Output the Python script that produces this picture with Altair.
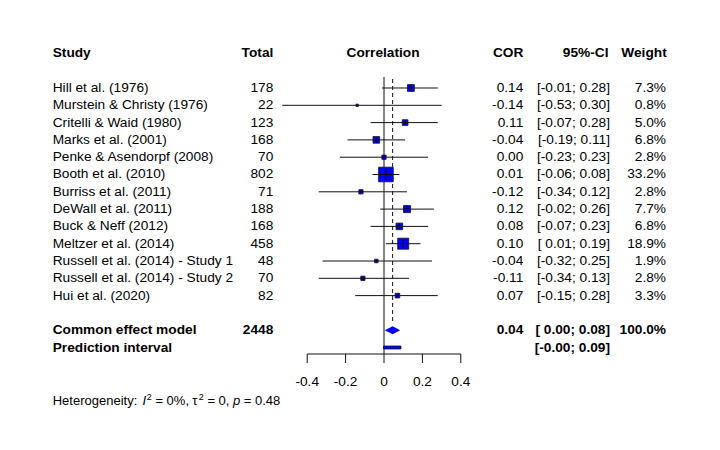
import altair as alt
import pandas as pd

# ---------------- data ----------------
studies = ["Hill et al. (1976)", "Murstein & Christy (1976)", "Critelli & Waid (1980)",
           "Marks et al. (2001)", "Penke & Asendorpf (2008)", "Booth et al. (2010)",
           "Burriss et al. (2011)", "DeWall et al. (2011)", "Buck & Neff (2012)",
           "Meltzer et al. (2014)", "Russell et al. (2014) - Study 1",
           "Russell et al. (2014) - Study 2", "Hui et al. (2020)"]
totals = [178, 22, 123, 168, 70, 802, 71, 188, 168, 458, 48, 70, 82]
cor = [0.14, -0.14, 0.11, -0.04, 0.00, 0.01, -0.12, 0.12, 0.08, 0.10, -0.04, -0.11, 0.07]
lower = [-0.01, -0.53, -0.07, -0.19, -0.23, -0.06, -0.34, -0.02, -0.07, 0.01, -0.32, -0.34, -0.15]
upper = [0.28, 0.30, 0.28, 0.11, 0.23, 0.08, 0.12, 0.26, 0.23, 0.19, 0.25, 0.13, 0.28]
weight = [7.3, 0.8, 5.0, 6.8, 2.8, 33.2, 2.8, 7.7, 6.8, 18.9, 1.9, 2.8, 3.3]

common_total = 2448
common_est, common_lo, common_hi = 0.045, 0.004, 0.084
common_labels = ["0.04", "[\u00a00.00; 0.08]", "100.0%"]
pred_lo, pred_hi = -0.002, 0.088
pred_label = "[-0.00; 0.09]"
tick_values = [-0.4, -0.2, 0, 0.2, 0.4]
tick_labels = ["-0.4", "-0.2", "0", "0.2", "0.4"]

def fmt(v):
    s = f"{v:.2f}"
    return s if v < 0 else "\u00a0" + s

rows = pd.DataFrame({
    "study": studies, "total": [str(t) for t in totals], "cor": cor, "lower": lower,
    "upper": upper, "weight": weight, "row": list(range(len(studies))),
})
rows["cor_lab"] = [f"{v:.2f}" for v in cor]
rows["ci_lab"] = ["[" + fmt(l) + "; " + f"{u:.2f}" + "]" for l, u in zip(lower, upper)]
rows["w_lab"] = [f"{w:.1f}%" for w in weight]

ROW_COMMON = len(studies) + 1
ROW_PRED = len(studies) + 2
FONT = "Liberation Sans"; FS = 13.7; ROW_PX = 17.3
SQ = 6.4  # square area (px^2) per weight percent

xs = alt.Scale(domain=[-376 / 192, 328 / 192], nice=False, zero=False)
ys = alt.Scale(domain=[-4.624, 20.462], reverse=True, nice=False, zero=False)
def X(f): return alt.X(f, scale=xs, axis=None)
def Y(f): return alt.Y(f, scale=ys, axis=None)

base = alt.Chart(rows)
squares = base.transform_calculate(sz=f"datum.weight * {SQ}").mark_point(
    shape="square", filled=True, fill="#0000ff", stroke="#1a1a40",
    strokeWidth=0.9, opacity=1, fillOpacity=1
).encode(x=X("cor:Q"), y=Y("row:Q"), size=alt.Size("sz:Q", scale=None, legend=None))
ci = base.mark_rule(color="#111111", strokeWidth=1).encode(x=X("lower:Q"), x2="upper:Q", y=Y("row:Q"))
ticks_in = base.transform_calculate(hl=f"sqrt(datum.weight * {SQ}) * 0.4 / {ROW_PX}").transform_calculate(
    t1="datum.row - datum.hl", t2="datum.row + datum.hl"
).mark_rule(color="#111111", strokeWidth=1).encode(x=X("cor:Q"), y=Y("t1:Q"), y2="t2:Q")
h = 0.23
diamond_df = pd.DataFrame({"x": [common_lo, common_est, common_hi],
                           "y": [ROW_COMMON, ROW_COMMON - h, ROW_COMMON],
                           "y2": [ROW_COMMON, ROW_COMMON + h, ROW_COMMON]})
diamond = alt.Chart(diamond_df).mark_area(color="#0000ff", opacity=1).encode(x=X("x:Q"), y=Y("y:Q"), y2="y2:Q")
pred_df = pd.DataFrame({"lo": [pred_lo], "hi": [pred_hi], "row": [ROW_PRED]})
pred = alt.Chart(pred_df).transform_calculate(r1="datum.row - 0.08", r2="datum.row + 0.08").mark_rect(
    fill="#0000ff", stroke="#00006b", strokeWidth=1).encode(x=X("lo:Q"), x2="hi:Q", y=Y("r1:Q"), y2="r2:Q")
zero_line = alt.Chart(pd.DataFrame({"x": [0]})).mark_rule(color="#111111", strokeWidth=1).encode(
    x=X("x:Q"), y=alt.value(69), y2=alt.value(346))
dash_line = alt.Chart(pd.DataFrame({"x": [common_est]})).mark_rule(
    color="#111111", strokeWidth=1, strokeDash=[4, 3]).encode(x=X("x:Q"), y=alt.value(71), y2=alt.value(314))
axis_line = alt.Chart(pd.DataFrame({"a": [tick_values[0]], "b": [tick_values[-1]]})).mark_rule(
    color="#111111", strokeWidth=1).encode(x=X("a:Q"), x2="b:Q", y=alt.value(346))
tick_df = pd.DataFrame({"v": tick_values, "lab": tick_labels})
axis_ticks = alt.Chart(tick_df).mark_rule(color="#111111", strokeWidth=1).encode(
    x=X("v:Q"), y=alt.value(346), y2=alt.value(355))
axis_labels = alt.Chart(tick_df).mark_text(font=FONT, fontSize=FS, baseline="middle", align="center", color="black").encode(
    x=X("v:Q"), y=alt.value(373.5), text="lab:N")

def col_text(field, xpx, align):
    return base.mark_text(font=FONT, fontSize=FS, baseline="middle", align=align, color="black").encode(
        x=alt.value(xpx), y=Y("row:Q"), text=f"{field}:N")
t_layers = [col_text("study", 44.7, "left"), col_text("total", 265.3, "right"),
            col_text("cor_lab", 515.3, "right"), col_text("ci_lab", 602, "right"),
            col_text("w_lab", 658, "right")]

summ = pd.DataFrame({"row": [ROW_COMMON, ROW_PRED],
                     "label": ["Common effect model", "Prediction interval"],
                     "total": [str(common_total), ""], "cor": [common_labels[0], ""],
                     "ci": [common_labels[1], pred_label], "w": [common_labels[2], ""]})
sbase = alt.Chart(summ)
def s_text(field, xpx, align):
    return sbase.mark_text(font=FONT, fontSize=FS, baseline="middle", align=align,
                           color="black", fontWeight="bold").encode(
        x=alt.value(xpx), y=Y("row:Q"), text=f"{field}:N")
s_layers = [s_text("label", 44.7, "left"), s_text("total", 265.3, "right"),
            s_text("cor", 515.3, "right"), s_text("ci", 602, "right"), s_text("w", 658, "right")]

hdr_df = pd.DataFrame({"t": ["Study", "Total", "Correlation", "COR", "95%-CI", "Weight"]})
def header(i, xpx, align):
    return alt.Chart(hdr_df).transform_filter(f"datum.t == '{hdr_df.t[i]}'").mark_text(
        font=FONT, fontSize=FS, fontWeight="bold", baseline="middle", align=align, color="black"
    ).encode(x=alt.value(xpx), y=alt.value(45), text="t:N")
headers = [header(0, 44.7, "left"), header(1, 265.3, "right"), header(2, 375, "center"),
           header(3, 515.3, "right"), header(4, 600.5, "right"), header(5, 658.7, "right")]

het_df = pd.DataFrame({"k": list(range(9)),
                       "t": ["Heterogeneity:", "I", "2", "= 0%,", "\u03c4", "2", "= 0,", "p", "= 0.48"]})
def het(k, xpx, ypx=396.7, size=13, italic=False):
    return alt.Chart(het_df).transform_filter(f"datum.k == {k}").mark_text(
        font=FONT, fontSize=size, baseline="alphabetic", align="left", color="black",
        fontStyle="italic" if italic else "normal"
    ).encode(x=alt.value(xpx), y=alt.value(ypx), text="t:N")
het_layers = [het(0, 44.7), het(1, 134.5, italic=True), het(2, 138.8, ypx=391.5, size=9),
              het(3, 147.4), het(4, 184.3), het(5, 190.8, ypx=391.5, size=9), het(6, 199.4),
              het(7, 225, italic=True), het(8, 235.8)]

chart = alt.layer(
    zero_line, dash_line, squares, ci, ticks_in, diamond, pred,
    axis_line, axis_ticks, axis_labels, *t_layers, *s_layers, *headers, *het_layers
).properties(
    width=704, height=434, padding=0, autosize=alt.AutoSizeParams(type="none")
).configure_view(stroke=None)

chart.save("out.html", embed_options={"renderer": "svg", "actions": False})
